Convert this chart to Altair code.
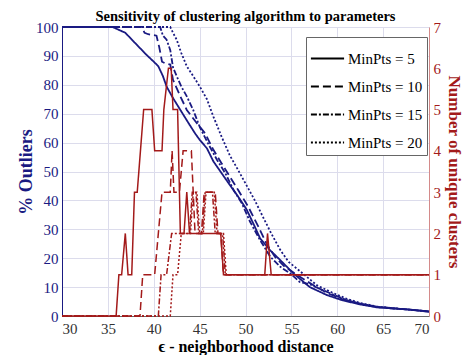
import altair as alt
import pandas as pd

NAVY = "#1a1a82"
RED = "#a31a1a"
SERIF = "'Liberation Serif', 'Times New Roman', Times, serif"

labels = ["MinPts = 5", "MinPts = 10", "MinPts = 15", "MinPts = 20"]

# % outliers curves
out5_x = [30, 35.5, 36.0, 36.9, 37.8, 38.5, 39.2, 40.0, 40.5, 41.0, 41.4, 42.1, 42.9, 43.8, 44.5, 45.0, 45.8,
          46.5, 47.4, 48.3, 49.2, 50.1, 51.0, 51.6, 52.7, 53.8, 55.2, 57.0, 58.9, 60.6, 62.5, 64.3, 66.1, 67.9, 70]
out5_y = [100, 100, 99.3, 98, 95, 92.7, 90.4, 88, 86.4, 83, 79.4, 75.4, 71.3, 66.7, 63.2, 61, 58,
          53.5, 49.4, 45.3, 41.3, 37, 31, 26.8, 22.7, 19.3, 14.8, 10, 7.2, 5.4, 4, 3, 2.6, 2.2, 1.5]

out10_x = [30, 38.7, 39.0, 39.4, 40.3, 40.6, 40.9, 41.2, 41.8, 42.1, 42.9, 43.6, 44.7, 45.6, 46.5, 47.4, 48.3,
           49.2, 50.3, 51.4, 52.3, 53.2, 54.3, 55.4, 56.5, 57.5, 59.0, 60.6, 62.5, 64.3, 66.1, 67.9, 70]
out10_y = [100, 100, 98, 97.5, 97, 93, 88, 87.5, 87, 81.7, 76, 71.3, 66.7, 63.2, 57.5, 52.8, 48.2,
           43.6, 37.8, 30.9, 25, 20.5, 17, 14.7, 12.4, 10.5, 7.8, 5.8, 4.2, 3.1, 2.6, 2.2, 1.5]

out15_x = [30, 40.7, 41.0, 41.4, 41.8, 42.1, 42.5, 43.0, 43.6, 44.3, 45.0, 45.9, 46.9, 47.8, 48.7, 49.6,
           50.5, 51.6, 52.7, 53.8, 54.9, 55.9, 57.0, 58.0, 59.5, 61.0, 62.5, 64.3, 66.1, 67.9, 70]
out15_y = [100, 100, 97, 95.6, 92, 86, 83, 79.4, 76, 71.3, 65.5, 59.8, 54, 49.4, 43.6, 39,
           32.6, 26.2, 20.5, 17, 14.7, 11.8, 11.0, 9.5, 7.5, 5.5, 4.3, 3.2, 2.7, 2.2, 1.6]

out20_x = [30, 41.8, 42.1, 42.5, 43.0, 43.6, 44.3, 45.0, 45.8, 46.5, 47.4, 48.3, 49.2, 50.1, 51.0, 51.9,
           52.8, 53.8, 54.7, 55.6, 56.7, 57.8, 59.5, 61.0, 62.5, 64.3, 66.1, 67.9, 70]
out20_y = [100, 100, 98, 95.6, 91, 86.4, 83, 79.5, 75, 69, 62, 55.5, 50.5, 45.3, 40.1, 34.3,
           28.6, 22.8, 18.7, 16.4, 13.5, 10.6, 8, 6, 4.5, 3.3, 2.7, 2.2, 1.6]

# number of unique clusters
cl5_x = [30, 35.9, 36.2, 36.5, 36.9, 37.2, 37.6, 37.9, 38.2, 38.9, 39.8, 40.1, 40.9, 41.1, 41.6, 41.9,
         42.1, 42.6, 42.9, 43.3, 43.6, 43.9, 47.3, 47.6, 52.1, 52.4, 52.8, 70]
cl5_y = [0, 0, 1, 1, 2, 1, 1, 3, 3, 5, 5, 4, 4, 5, 6, 6,
         5, 5, 2, 2, 3, 2, 2, 1, 1, 2, 1, 1]

cl10_x = [30, 38.5, 38.8, 40.1, 40.9, 41.8, 42.0, 42.2, 42.8, 43.2, 44.1, 44.5, 45.2, 45.5, 46.7, 47.0,
          47.3, 47.6, 70]
cl10_y = [0, 0, 1, 1, 3, 3, 4, 3, 3, 4, 4, 2, 2, 3, 3, 2,
          2, 1, 1]

cl15_x = [30, 40.5, 40.8, 41.4, 41.95, 43.9, 44.2, 44.6, 44.9, 45.3, 45.6, 46.4, 46.7, 47.5, 47.8, 70]
cl15_y = [0, 0, 1, 1, 2, 2, 3, 3, 2, 2, 3, 3, 2, 2, 1, 1]

cl20_x = [30, 41.8, 42.1, 42.6, 43.0, 44.0, 44.3, 44.7, 45.0, 45.4, 45.7, 46.6, 46.9, 47.6, 47.9, 70]
cl20_y = [0, 0, 1, 1, 2, 2, 3, 3, 2, 2, 3, 3, 2, 2, 1, 1]


def frame(xs, ys, lab):
    return pd.DataFrame({"x": xs, "v": ys, "MinPts": lab, "i": range(len(xs))})


out_df = pd.concat([frame(out5_x, out5_y, labels[0]), frame(out10_x, out10_y, labels[1]),
                    frame(out15_x, out15_y, labels[2]), frame(out20_x, out20_y, labels[3])])
cl_df = pd.concat([frame(cl5_x, cl5_y, labels[0]), frame(cl10_x, cl10_y, labels[1]),
                   frame(cl15_x, cl15_y, labels[2]), frame(cl20_x, cl20_y, labels[3])])

dash_scale = alt.Scale(domain=labels, range=[[1, 0], [8, 4], [6, 2, 2, 2], [2, 2]])

xenc = alt.X("x:Q", scale=alt.Scale(domain=[30, 70], nice=False, zero=False),
             axis=alt.Axis(values=list(range(30, 71, 5)), title="ϵ - neighborhood distance",
                           titleFont=SERIF, titleFontSize=16, titleFontWeight="bold", titleColor="black",
                           titlePadding=2, labelFont=SERIF, labelFontSize=15, labelColor="#333",
                           labelPadding=5, ticks=False, domainColor="#666", grid=True,
                           gridColor="#dcdcec", gridWidth=1))

legend = alt.Legend(title=None, orient="none", legendX=244, legendY=10, fillColor="white",
                    strokeColor="#666", padding=4, rowPadding=2, symbolType="stroke",
                    symbolStrokeColor="black", symbolStrokeWidth=1.8, symbolSize=1100,
                    labelFont=SERIF, labelFontSize=15, labelColor="black", labelOffset=3,
                    symbolFillColor="transparent")

out_layer = alt.Chart(out_df).mark_line(color=NAVY, strokeWidth=1.8).encode(
    x=xenc,
    y=alt.Y("v:Q", scale=alt.Scale(domain=[0, 100], nice=False),
            axis=alt.Axis(values=list(range(0, 101, 10)), title="% Outliers", titleFont=SERIF,
                          titleFontSize=18, titleFontWeight="bold", titleColor=NAVY, titlePadding=0,
                          labelFont=SERIF, labelFontSize=15, labelColor=NAVY, labelPadding=4,
                          ticks=False, domainColor=NAVY, grid=True, gridColor="#dcdcec")),
    strokeDash=alt.StrokeDash("MinPts:N", scale=dash_scale, legend=legend),
    order="i:Q",
)

cl_layer = alt.Chart(cl_df).mark_line(color=RED, strokeWidth=1.5).encode(
    x=alt.X("x:Q", scale=alt.Scale(domain=[30, 70], nice=False, zero=False)),
    y=alt.Y("v:Q", scale=alt.Scale(domain=[0, 7], nice=False),
            axis=alt.Axis(orient="right", values=list(range(0, 8)), title="Number of unique clusters",
                          titleFont=SERIF, titleFontSize=17, titleFontWeight="bold", titleColor=RED,
                          titlePadding=4, labelFont=SERIF, labelFontSize=15, labelColor=RED,
                          labelPadding=4, ticks=False, domainColor="#d48a8a", grid=False)),
    strokeDash=alt.StrokeDash("MinPts:N", scale=dash_scale, legend=legend),
    order="i:Q",
)

chart = alt.layer(out_layer, cl_layer).resolve_scale(y="independent").properties(
    width=367, height=289,
    padding={"left": 62, "top": 27, "right": 45, "bottom": 39},
    autosize=alt.AutoSizeParams(type="none"),
    title=alt.TitleParams("Sensitivity of clustering algorithm to parameters", font=SERIF,
                          fontSize=14.5, fontWeight="bold", color="black", offset=-4, anchor="middle",
                          frame="group"),
).configure_view(stroke="#888").configure(background="white")

chart.save("out.html", embed_options={"renderer": "svg", "actions": False})
